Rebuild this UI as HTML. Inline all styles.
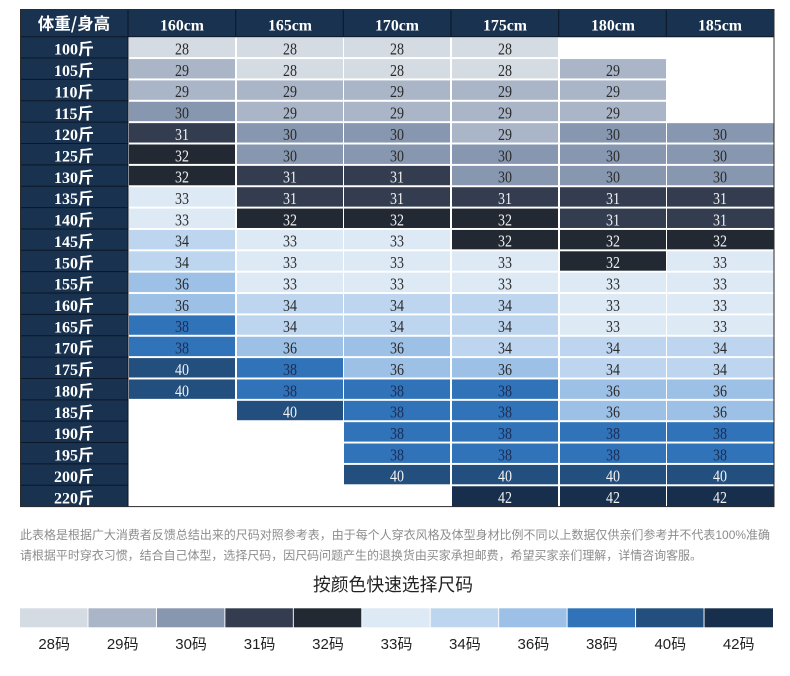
<!DOCTYPE html>
<html><head><meta charset="utf-8"><style>
html,body{margin:0;padding:0;background:#fff;}
svg{display:block;}
.k28{fill:#d5dbe3}.k29{fill:#aab6c8}.k30{fill:#8797b0}.k31{fill:#333d4f}.k32{fill:#222933}
.k33{fill:#dde9f5}.k34{fill:#bdd5ee}.k36{fill:#9dc0e6}.k38{fill:#3073b9}.k40{fill:#224f7e}.k42{fill:#172f4c}
.t{font-family:"Liberation Serif","Noto Serif CJK SC",serif;font-size:17px;text-anchor:middle;}
.d{fill:#2a2a2a}.n{fill:#1d2c52}.w{fill:#f2f2f2}
.h{font-family:"Liberation Serif","Noto Sans CJK SC",sans-serif;font-size:16px;font-weight:bold;fill:#fff;text-anchor:middle;}
.lg{font-family:"Liberation Sans","Noto Sans CJK SC",sans-serif;font-size:15px;fill:#222;text-anchor:middle;}
.nt{font-family:"Liberation Sans","Noto Sans CJK SC",sans-serif;font-size:12px;fill:#8c8c8c;}
</style></head><body>
<svg width="790" height="676" viewBox="0 0 790 676" xmlns="http://www.w3.org/2000/svg">
<rect x="0" y="0" width="790" height="676" fill="#fff"/>
<!-- header + first column -->
<rect x="20" y="9.5" width="754" height="27.2" fill="#18324f"/>
<rect x="20" y="36.7" width="108" height="470" fill="#18324f"/>
<g stroke="#0b1626" stroke-width="1">
<line x1="20" y1="36.7" x2="774" y2="36.7"/>
<line x1="128" y1="9.5" x2="128" y2="506.6"/>
<line x1="235.7" y1="9.5" x2="235.7" y2="36.7"/>
<line x1="343.3" y1="9.5" x2="343.3" y2="36.7"/>
<line x1="451" y1="9.5" x2="451" y2="36.7"/>
<line x1="558.7" y1="9.5" x2="558.7" y2="36.7"/>
<line x1="666.3" y1="9.5" x2="666.3" y2="36.7"/>
<line x1="20" y1="58.06" x2="128" y2="58.06"/><line x1="20" y1="79.42" x2="128" y2="79.42"/>
<line x1="20" y1="100.78" x2="128" y2="100.78"/><line x1="20" y1="122.14" x2="128" y2="122.14"/>
<line x1="20" y1="143.5" x2="128" y2="143.5"/><line x1="20" y1="164.86" x2="128" y2="164.86"/>
<line x1="20" y1="186.22" x2="128" y2="186.22"/><line x1="20" y1="207.58" x2="128" y2="207.58"/>
<line x1="20" y1="228.94" x2="128" y2="228.94"/><line x1="20" y1="250.3" x2="128" y2="250.3"/>
<line x1="20" y1="271.66" x2="128" y2="271.66"/><line x1="20" y1="293.02" x2="128" y2="293.02"/>
<line x1="20" y1="314.38" x2="128" y2="314.38"/><line x1="20" y1="335.74" x2="128" y2="335.74"/>
<line x1="20" y1="357.1" x2="128" y2="357.1"/><line x1="20" y1="378.46" x2="128" y2="378.46"/>
<line x1="20" y1="399.82" x2="128" y2="399.82"/><line x1="20" y1="421.18" x2="128" y2="421.18"/>
<line x1="20" y1="442.54" x2="128" y2="442.54"/><line x1="20" y1="463.9" x2="128" y2="463.9"/>
<line x1="20" y1="485.26" x2="128" y2="485.26"/>
</g>
<text x="74" y="29.5" class="h" style="font-family:'Noto Sans CJK SC',sans-serif;font-size:16.5px">体重/身高</text>
<text x="182" y="30.5" class="h" textLength="44" lengthAdjust="spacingAndGlyphs">160cm</text>
<text x="290" y="30.5" class="h" textLength="44" lengthAdjust="spacingAndGlyphs">165cm</text>
<text x="397" y="30.5" class="h" textLength="44" lengthAdjust="spacingAndGlyphs">170cm</text>
<text x="505" y="30.5" class="h" textLength="44" lengthAdjust="spacingAndGlyphs">175cm</text>
<text x="613" y="30.5" class="h" textLength="44" lengthAdjust="spacingAndGlyphs">180cm</text>
<text x="720" y="30.5" class="h" textLength="44" lengthAdjust="spacingAndGlyphs">185cm</text>

<!-- row 100 -->
<g transform="translate(0,36.7)">
<text x="74" y="18" class="h">100斤</text>
<rect x="129" y="1" width="106" height="19.4" class="k28"/><text x="182" y="17.8" class="t d" textLength="14" lengthAdjust="spacingAndGlyphs">28</text>
<rect x="237" y="1" width="106" height="19.4" class="k28"/><text x="290" y="17.8" class="t d" textLength="14" lengthAdjust="spacingAndGlyphs">28</text>
<rect x="344" y="1" width="106" height="19.4" class="k28"/><text x="397" y="17.8" class="t d" textLength="14" lengthAdjust="spacingAndGlyphs">28</text>
<rect x="452" y="1" width="106" height="19.4" class="k28"/><text x="505" y="17.8" class="t d" textLength="14" lengthAdjust="spacingAndGlyphs">28</text>
</g>
<!-- row 105 -->
<g transform="translate(0,58.06)">
<text x="74" y="18" class="h">105斤</text>
<rect x="129" y="1" width="106" height="19.4" class="k29"/><text x="182" y="17.8" class="t d" textLength="14" lengthAdjust="spacingAndGlyphs">29</text>
<rect x="237" y="1" width="106" height="19.4" class="k28"/><text x="290" y="17.8" class="t d" textLength="14" lengthAdjust="spacingAndGlyphs">28</text>
<rect x="344" y="1" width="106" height="19.4" class="k28"/><text x="397" y="17.8" class="t d" textLength="14" lengthAdjust="spacingAndGlyphs">28</text>
<rect x="452" y="1" width="106" height="19.4" class="k28"/><text x="505" y="17.8" class="t d" textLength="14" lengthAdjust="spacingAndGlyphs">28</text>
<rect x="560" y="1" width="106" height="19.4" class="k29"/><text x="613" y="17.8" class="t d" textLength="14" lengthAdjust="spacingAndGlyphs">29</text>
</g>
<!-- row 110 -->
<g transform="translate(0,79.42)">
<text x="74" y="18" class="h">110斤</text>
<rect x="129" y="1" width="106" height="19.4" class="k29"/><text x="182" y="17.8" class="t d" textLength="14" lengthAdjust="spacingAndGlyphs">29</text>
<rect x="237" y="1" width="106" height="19.4" class="k29"/><text x="290" y="17.8" class="t d" textLength="14" lengthAdjust="spacingAndGlyphs">29</text>
<rect x="344" y="1" width="106" height="19.4" class="k29"/><text x="397" y="17.8" class="t d" textLength="14" lengthAdjust="spacingAndGlyphs">29</text>
<rect x="452" y="1" width="106" height="19.4" class="k29"/><text x="505" y="17.8" class="t d" textLength="14" lengthAdjust="spacingAndGlyphs">29</text>
<rect x="560" y="1" width="106" height="19.4" class="k29"/><text x="613" y="17.8" class="t d" textLength="14" lengthAdjust="spacingAndGlyphs">29</text>
</g>
<!-- row 115 -->
<g transform="translate(0,100.78)">
<text x="74" y="18" class="h">115斤</text>
<rect x="129" y="1" width="106" height="19.4" class="k30"/><text x="182" y="17.8" class="t d" textLength="14" lengthAdjust="spacingAndGlyphs">30</text>
<rect x="237" y="1" width="106" height="19.4" class="k29"/><text x="290" y="17.8" class="t d" textLength="14" lengthAdjust="spacingAndGlyphs">29</text>
<rect x="344" y="1" width="106" height="19.4" class="k29"/><text x="397" y="17.8" class="t d" textLength="14" lengthAdjust="spacingAndGlyphs">29</text>
<rect x="452" y="1" width="106" height="19.4" class="k29"/><text x="505" y="17.8" class="t d" textLength="14" lengthAdjust="spacingAndGlyphs">29</text>
<rect x="560" y="1" width="106" height="19.4" class="k29"/><text x="613" y="17.8" class="t d" textLength="14" lengthAdjust="spacingAndGlyphs">29</text>
</g>
<!-- row 120 -->
<g transform="translate(0,122.14)">
<text x="74" y="18" class="h">120斤</text>
<rect x="129" y="1" width="106" height="19.4" class="k31"/><text x="182" y="17.8" class="t w" textLength="14" lengthAdjust="spacingAndGlyphs">31</text>
<rect x="237" y="1" width="106" height="19.4" class="k30"/><text x="290" y="17.8" class="t d" textLength="14" lengthAdjust="spacingAndGlyphs">30</text>
<rect x="344" y="1" width="106" height="19.4" class="k30"/><text x="397" y="17.8" class="t d" textLength="14" lengthAdjust="spacingAndGlyphs">30</text>
<rect x="452" y="1" width="106" height="19.4" class="k29"/><text x="505" y="17.8" class="t d" textLength="14" lengthAdjust="spacingAndGlyphs">29</text>
<rect x="560" y="1" width="106" height="19.4" class="k30"/><text x="613" y="17.8" class="t d" textLength="14" lengthAdjust="spacingAndGlyphs">30</text>
<rect x="667" y="1" width="107" height="19.4" class="k30"/><text x="720" y="17.8" class="t d" textLength="14" lengthAdjust="spacingAndGlyphs">30</text>
</g>
<!-- row 125 -->
<g transform="translate(0,143.5)">
<text x="74" y="18" class="h">125斤</text>
<rect x="129" y="1" width="106" height="19.4" class="k32"/><text x="182" y="17.8" class="t w" textLength="14" lengthAdjust="spacingAndGlyphs">32</text>
<rect x="237" y="1" width="106" height="19.4" class="k30"/><text x="290" y="17.8" class="t d" textLength="14" lengthAdjust="spacingAndGlyphs">30</text>
<rect x="344" y="1" width="106" height="19.4" class="k30"/><text x="397" y="17.8" class="t d" textLength="14" lengthAdjust="spacingAndGlyphs">30</text>
<rect x="452" y="1" width="106" height="19.4" class="k30"/><text x="505" y="17.8" class="t d" textLength="14" lengthAdjust="spacingAndGlyphs">30</text>
<rect x="560" y="1" width="106" height="19.4" class="k30"/><text x="613" y="17.8" class="t d" textLength="14" lengthAdjust="spacingAndGlyphs">30</text>
<rect x="667" y="1" width="107" height="19.4" class="k30"/><text x="720" y="17.8" class="t d" textLength="14" lengthAdjust="spacingAndGlyphs">30</text>
</g>
<!-- row 130 -->
<g transform="translate(0,164.86)">
<text x="74" y="18" class="h">130斤</text>
<rect x="129" y="1" width="106" height="19.4" class="k32"/><text x="182" y="17.8" class="t w" textLength="14" lengthAdjust="spacingAndGlyphs">32</text>
<rect x="237" y="1" width="106" height="19.4" class="k31"/><text x="290" y="17.8" class="t w" textLength="14" lengthAdjust="spacingAndGlyphs">31</text>
<rect x="344" y="1" width="106" height="19.4" class="k31"/><text x="397" y="17.8" class="t w" textLength="14" lengthAdjust="spacingAndGlyphs">31</text>
<rect x="452" y="1" width="106" height="19.4" class="k30"/><text x="505" y="17.8" class="t d" textLength="14" lengthAdjust="spacingAndGlyphs">30</text>
<rect x="560" y="1" width="106" height="19.4" class="k30"/><text x="613" y="17.8" class="t d" textLength="14" lengthAdjust="spacingAndGlyphs">30</text>
<rect x="667" y="1" width="107" height="19.4" class="k30"/><text x="720" y="17.8" class="t d" textLength="14" lengthAdjust="spacingAndGlyphs">30</text>
</g>
<!-- row 135 -->
<g transform="translate(0,186.22)">
<text x="74" y="18" class="h">135斤</text>
<rect x="129" y="1" width="106" height="19.4" class="k33"/><text x="182" y="17.8" class="t d" textLength="14" lengthAdjust="spacingAndGlyphs">33</text>
<rect x="237" y="1" width="106" height="19.4" class="k31"/><text x="290" y="17.8" class="t w" textLength="14" lengthAdjust="spacingAndGlyphs">31</text>
<rect x="344" y="1" width="106" height="19.4" class="k31"/><text x="397" y="17.8" class="t w" textLength="14" lengthAdjust="spacingAndGlyphs">31</text>
<rect x="452" y="1" width="106" height="19.4" class="k31"/><text x="505" y="17.8" class="t w" textLength="14" lengthAdjust="spacingAndGlyphs">31</text>
<rect x="560" y="1" width="106" height="19.4" class="k31"/><text x="613" y="17.8" class="t w" textLength="14" lengthAdjust="spacingAndGlyphs">31</text>
<rect x="667" y="1" width="107" height="19.4" class="k31"/><text x="720" y="17.8" class="t w" textLength="14" lengthAdjust="spacingAndGlyphs">31</text>
</g>
<!-- row 140 -->
<g transform="translate(0,207.58)">
<text x="74" y="18" class="h">140斤</text>
<rect x="129" y="1" width="106" height="19.4" class="k33"/><text x="182" y="17.8" class="t d" textLength="14" lengthAdjust="spacingAndGlyphs">33</text>
<rect x="237" y="1" width="106" height="19.4" class="k32"/><text x="290" y="17.8" class="t w" textLength="14" lengthAdjust="spacingAndGlyphs">32</text>
<rect x="344" y="1" width="106" height="19.4" class="k32"/><text x="397" y="17.8" class="t w" textLength="14" lengthAdjust="spacingAndGlyphs">32</text>
<rect x="452" y="1" width="106" height="19.4" class="k32"/><text x="505" y="17.8" class="t w" textLength="14" lengthAdjust="spacingAndGlyphs">32</text>
<rect x="560" y="1" width="106" height="19.4" class="k31"/><text x="613" y="17.8" class="t w" textLength="14" lengthAdjust="spacingAndGlyphs">31</text>
<rect x="667" y="1" width="107" height="19.4" class="k31"/><text x="720" y="17.8" class="t w" textLength="14" lengthAdjust="spacingAndGlyphs">31</text>
</g>
<!-- row 145 -->
<g transform="translate(0,228.94)">
<text x="74" y="18" class="h">145斤</text>
<rect x="129" y="1" width="106" height="19.4" class="k34"/><text x="182" y="17.8" class="t d" textLength="14" lengthAdjust="spacingAndGlyphs">34</text>
<rect x="237" y="1" width="106" height="19.4" class="k33"/><text x="290" y="17.8" class="t d" textLength="14" lengthAdjust="spacingAndGlyphs">33</text>
<rect x="344" y="1" width="106" height="19.4" class="k33"/><text x="397" y="17.8" class="t d" textLength="14" lengthAdjust="spacingAndGlyphs">33</text>
<rect x="452" y="1" width="106" height="19.4" class="k32"/><text x="505" y="17.8" class="t w" textLength="14" lengthAdjust="spacingAndGlyphs">32</text>
<rect x="560" y="1" width="106" height="19.4" class="k32"/><text x="613" y="17.8" class="t w" textLength="14" lengthAdjust="spacingAndGlyphs">32</text>
<rect x="667" y="1" width="107" height="19.4" class="k32"/><text x="720" y="17.8" class="t w" textLength="14" lengthAdjust="spacingAndGlyphs">32</text>
</g>
<!-- row 150 -->
<g transform="translate(0,250.3)">
<text x="74" y="18" class="h">150斤</text>
<rect x="129" y="1" width="106" height="19.4" class="k34"/><text x="182" y="17.8" class="t d" textLength="14" lengthAdjust="spacingAndGlyphs">34</text>
<rect x="237" y="1" width="106" height="19.4" class="k33"/><text x="290" y="17.8" class="t d" textLength="14" lengthAdjust="spacingAndGlyphs">33</text>
<rect x="344" y="1" width="106" height="19.4" class="k33"/><text x="397" y="17.8" class="t d" textLength="14" lengthAdjust="spacingAndGlyphs">33</text>
<rect x="452" y="1" width="106" height="19.4" class="k33"/><text x="505" y="17.8" class="t d" textLength="14" lengthAdjust="spacingAndGlyphs">33</text>
<rect x="560" y="1" width="106" height="19.4" class="k32"/><text x="613" y="17.8" class="t w" textLength="14" lengthAdjust="spacingAndGlyphs">32</text>
<rect x="667" y="1" width="107" height="19.4" class="k33"/><text x="720" y="17.8" class="t d" textLength="14" lengthAdjust="spacingAndGlyphs">33</text>
</g>
<!-- row 155 -->
<g transform="translate(0,271.66)">
<text x="74" y="18" class="h">155斤</text>
<rect x="129" y="1" width="106" height="19.4" class="k36"/><text x="182" y="17.8" class="t d" textLength="14" lengthAdjust="spacingAndGlyphs">36</text>
<rect x="237" y="1" width="106" height="19.4" class="k33"/><text x="290" y="17.8" class="t d" textLength="14" lengthAdjust="spacingAndGlyphs">33</text>
<rect x="344" y="1" width="106" height="19.4" class="k33"/><text x="397" y="17.8" class="t d" textLength="14" lengthAdjust="spacingAndGlyphs">33</text>
<rect x="452" y="1" width="106" height="19.4" class="k33"/><text x="505" y="17.8" class="t d" textLength="14" lengthAdjust="spacingAndGlyphs">33</text>
<rect x="560" y="1" width="106" height="19.4" class="k33"/><text x="613" y="17.8" class="t d" textLength="14" lengthAdjust="spacingAndGlyphs">33</text>
<rect x="667" y="1" width="107" height="19.4" class="k33"/><text x="720" y="17.8" class="t d" textLength="14" lengthAdjust="spacingAndGlyphs">33</text>
</g>
<!-- row 160 -->
<g transform="translate(0,293.02)">
<text x="74" y="18" class="h">160斤</text>
<rect x="129" y="1" width="106" height="19.4" class="k36"/><text x="182" y="17.8" class="t d" textLength="14" lengthAdjust="spacingAndGlyphs">36</text>
<rect x="237" y="1" width="106" height="19.4" class="k34"/><text x="290" y="17.8" class="t d" textLength="14" lengthAdjust="spacingAndGlyphs">34</text>
<rect x="344" y="1" width="106" height="19.4" class="k34"/><text x="397" y="17.8" class="t d" textLength="14" lengthAdjust="spacingAndGlyphs">34</text>
<rect x="452" y="1" width="106" height="19.4" class="k34"/><text x="505" y="17.8" class="t d" textLength="14" lengthAdjust="spacingAndGlyphs">34</text>
<rect x="560" y="1" width="106" height="19.4" class="k33"/><text x="613" y="17.8" class="t d" textLength="14" lengthAdjust="spacingAndGlyphs">33</text>
<rect x="667" y="1" width="107" height="19.4" class="k33"/><text x="720" y="17.8" class="t d" textLength="14" lengthAdjust="spacingAndGlyphs">33</text>
</g>
<!-- row 165 -->
<g transform="translate(0,314.38)">
<text x="74" y="18" class="h">165斤</text>
<rect x="129" y="1" width="106" height="19.4" class="k38"/><text x="182" y="17.8" class="t n" textLength="14" lengthAdjust="spacingAndGlyphs">38</text>
<rect x="237" y="1" width="106" height="19.4" class="k34"/><text x="290" y="17.8" class="t d" textLength="14" lengthAdjust="spacingAndGlyphs">34</text>
<rect x="344" y="1" width="106" height="19.4" class="k34"/><text x="397" y="17.8" class="t d" textLength="14" lengthAdjust="spacingAndGlyphs">34</text>
<rect x="452" y="1" width="106" height="19.4" class="k34"/><text x="505" y="17.8" class="t d" textLength="14" lengthAdjust="spacingAndGlyphs">34</text>
<rect x="560" y="1" width="106" height="19.4" class="k33"/><text x="613" y="17.8" class="t d" textLength="14" lengthAdjust="spacingAndGlyphs">33</text>
<rect x="667" y="1" width="107" height="19.4" class="k33"/><text x="720" y="17.8" class="t d" textLength="14" lengthAdjust="spacingAndGlyphs">33</text>
</g>
<!-- row 170 -->
<g transform="translate(0,335.74)">
<text x="74" y="18" class="h">170斤</text>
<rect x="129" y="1" width="106" height="19.4" class="k38"/><text x="182" y="17.8" class="t n" textLength="14" lengthAdjust="spacingAndGlyphs">38</text>
<rect x="237" y="1" width="106" height="19.4" class="k36"/><text x="290" y="17.8" class="t d" textLength="14" lengthAdjust="spacingAndGlyphs">36</text>
<rect x="344" y="1" width="106" height="19.4" class="k36"/><text x="397" y="17.8" class="t d" textLength="14" lengthAdjust="spacingAndGlyphs">36</text>
<rect x="452" y="1" width="106" height="19.4" class="k34"/><text x="505" y="17.8" class="t d" textLength="14" lengthAdjust="spacingAndGlyphs">34</text>
<rect x="560" y="1" width="106" height="19.4" class="k34"/><text x="613" y="17.8" class="t d" textLength="14" lengthAdjust="spacingAndGlyphs">34</text>
<rect x="667" y="1" width="107" height="19.4" class="k34"/><text x="720" y="17.8" class="t d" textLength="14" lengthAdjust="spacingAndGlyphs">34</text>
</g>
<!-- row 175 -->
<g transform="translate(0,357.1)">
<text x="74" y="18" class="h">175斤</text>
<rect x="129" y="1" width="106" height="19.4" class="k40"/><text x="182" y="17.8" class="t w" textLength="14" lengthAdjust="spacingAndGlyphs">40</text>
<rect x="237" y="1" width="106" height="19.4" class="k38"/><text x="290" y="17.8" class="t n" textLength="14" lengthAdjust="spacingAndGlyphs">38</text>
<rect x="344" y="1" width="106" height="19.4" class="k36"/><text x="397" y="17.8" class="t d" textLength="14" lengthAdjust="spacingAndGlyphs">36</text>
<rect x="452" y="1" width="106" height="19.4" class="k36"/><text x="505" y="17.8" class="t d" textLength="14" lengthAdjust="spacingAndGlyphs">36</text>
<rect x="560" y="1" width="106" height="19.4" class="k34"/><text x="613" y="17.8" class="t d" textLength="14" lengthAdjust="spacingAndGlyphs">34</text>
<rect x="667" y="1" width="107" height="19.4" class="k34"/><text x="720" y="17.8" class="t d" textLength="14" lengthAdjust="spacingAndGlyphs">34</text>
</g>
<!-- row 180 -->
<g transform="translate(0,378.46)">
<text x="74" y="18" class="h">180斤</text>
<rect x="129" y="1" width="106" height="19.4" class="k40"/><text x="182" y="17.8" class="t w" textLength="14" lengthAdjust="spacingAndGlyphs">40</text>
<rect x="237" y="1" width="106" height="19.4" class="k38"/><text x="290" y="17.8" class="t n" textLength="14" lengthAdjust="spacingAndGlyphs">38</text>
<rect x="344" y="1" width="106" height="19.4" class="k38"/><text x="397" y="17.8" class="t n" textLength="14" lengthAdjust="spacingAndGlyphs">38</text>
<rect x="452" y="1" width="106" height="19.4" class="k38"/><text x="505" y="17.8" class="t n" textLength="14" lengthAdjust="spacingAndGlyphs">38</text>
<rect x="560" y="1" width="106" height="19.4" class="k36"/><text x="613" y="17.8" class="t d" textLength="14" lengthAdjust="spacingAndGlyphs">36</text>
<rect x="667" y="1" width="107" height="19.4" class="k36"/><text x="720" y="17.8" class="t d" textLength="14" lengthAdjust="spacingAndGlyphs">36</text>
</g>
<!-- row 185 -->
<g transform="translate(0,399.82)">
<text x="74" y="18" class="h">185斤</text>
<rect x="237" y="1" width="106" height="19.4" class="k40"/><text x="290" y="17.8" class="t w" textLength="14" lengthAdjust="spacingAndGlyphs">40</text>
<rect x="344" y="1" width="106" height="19.4" class="k38"/><text x="397" y="17.8" class="t n" textLength="14" lengthAdjust="spacingAndGlyphs">38</text>
<rect x="452" y="1" width="106" height="19.4" class="k38"/><text x="505" y="17.8" class="t n" textLength="14" lengthAdjust="spacingAndGlyphs">38</text>
<rect x="560" y="1" width="106" height="19.4" class="k36"/><text x="613" y="17.8" class="t d" textLength="14" lengthAdjust="spacingAndGlyphs">36</text>
<rect x="667" y="1" width="107" height="19.4" class="k36"/><text x="720" y="17.8" class="t d" textLength="14" lengthAdjust="spacingAndGlyphs">36</text>
</g>
<!-- row 190 -->
<g transform="translate(0,421.18)">
<text x="74" y="18" class="h">190斤</text>
<rect x="344" y="1" width="106" height="19.4" class="k38"/><text x="397" y="17.8" class="t n" textLength="14" lengthAdjust="spacingAndGlyphs">38</text>
<rect x="452" y="1" width="106" height="19.4" class="k38"/><text x="505" y="17.8" class="t n" textLength="14" lengthAdjust="spacingAndGlyphs">38</text>
<rect x="560" y="1" width="106" height="19.4" class="k38"/><text x="613" y="17.8" class="t n" textLength="14" lengthAdjust="spacingAndGlyphs">38</text>
<rect x="667" y="1" width="107" height="19.4" class="k38"/><text x="720" y="17.8" class="t n" textLength="14" lengthAdjust="spacingAndGlyphs">38</text>
</g>
<!-- row 195 -->
<g transform="translate(0,442.54)">
<text x="74" y="18" class="h">195斤</text>
<rect x="344" y="1" width="106" height="19.4" class="k38"/><text x="397" y="17.8" class="t n" textLength="14" lengthAdjust="spacingAndGlyphs">38</text>
<rect x="452" y="1" width="106" height="19.4" class="k38"/><text x="505" y="17.8" class="t n" textLength="14" lengthAdjust="spacingAndGlyphs">38</text>
<rect x="560" y="1" width="106" height="19.4" class="k38"/><text x="613" y="17.8" class="t n" textLength="14" lengthAdjust="spacingAndGlyphs">38</text>
<rect x="667" y="1" width="107" height="19.4" class="k38"/><text x="720" y="17.8" class="t n" textLength="14" lengthAdjust="spacingAndGlyphs">38</text>
</g>
<!-- row 200 -->
<g transform="translate(0,463.9)">
<text x="74" y="18" class="h">200斤</text>
<rect x="344" y="1" width="106" height="19.4" class="k40"/><text x="397" y="17.8" class="t w" textLength="14" lengthAdjust="spacingAndGlyphs">40</text>
<rect x="452" y="1" width="106" height="19.4" class="k40"/><text x="505" y="17.8" class="t w" textLength="14" lengthAdjust="spacingAndGlyphs">40</text>
<rect x="560" y="1" width="106" height="19.4" class="k40"/><text x="613" y="17.8" class="t w" textLength="14" lengthAdjust="spacingAndGlyphs">40</text>
<rect x="667" y="1" width="107" height="19.4" class="k40"/><text x="720" y="17.8" class="t w" textLength="14" lengthAdjust="spacingAndGlyphs">40</text>
</g>
<!-- row 220 -->
<g transform="translate(0,485.26)">
<text x="74" y="18" class="h">220斤</text>
<rect x="452" y="1" width="106" height="20.4" class="k42"/><text x="505" y="17.8" class="t w" textLength="14" lengthAdjust="spacingAndGlyphs">42</text>
<rect x="560" y="1" width="106" height="20.4" class="k42"/><text x="613" y="17.8" class="t w" textLength="14" lengthAdjust="spacingAndGlyphs">42</text>
<rect x="667" y="1" width="107" height="20.4" class="k42"/><text x="720" y="17.8" class="t w" textLength="14" lengthAdjust="spacingAndGlyphs">42</text>
</g>

<!-- outer border -->
<rect x="20.5" y="9.5" width="753.5" height="497.1" fill="none" stroke="#2b2b2b" stroke-width="1"/>

<!-- notes -->
<text x="20" y="539" class="nt" textLength="750" lengthAdjust="spacingAndGlyphs">此表格是根据广大消费者反馈总结出来的尺码对照参考表，由于每个人穿衣风格及体型身材比例不同以上数据仅供亲们参考并不代表100%准确</text>
<text x="20" y="559.5" class="nt" textLength="682" lengthAdjust="spacingAndGlyphs">请根据平时穿衣习惯，结合自己体型，选择尺码，因尺码问题产生的退换货由买家承担邮费，希望买家亲们理解，详情咨询客服。</text>

<!-- title -->
<text x="393" y="591" style="font-family:'Liberation Sans','Noto Sans CJK SC',sans-serif;font-size:18px;fill:#222;text-anchor:middle;" textLength="160" lengthAdjust="spacingAndGlyphs">按颜色快速选择尺码</text>

<!-- legend -->
<rect x="20" y="608.3" width="67.5" height="19" class="k28"/>
<rect x="88.45" y="608.3" width="67.5" height="19" class="k29"/>
<rect x="156.9" y="608.3" width="67.5" height="19" class="k30"/>
<rect x="225.35" y="608.3" width="67.5" height="19" class="k31"/>
<rect x="293.8" y="608.3" width="67.5" height="19" class="k32"/>
<rect x="362.25" y="608.3" width="67.5" height="19" class="k33"/>
<rect x="430.7" y="608.3" width="67.5" height="19" class="k34"/>
<rect x="499.15" y="608.3" width="67.5" height="19" class="k36"/>
<rect x="567.6" y="608.3" width="67.5" height="19" class="k38"/>
<rect x="636.05" y="608.3" width="67.5" height="19" class="k40"/>
<rect x="704.5" y="608.3" width="68.5" height="19" class="k42"/>
<text x="54.2" y="649" class="lg">28码</text>
<text x="122.7" y="649" class="lg">29码</text>
<text x="191.1" y="649" class="lg">30码</text>
<text x="259.6" y="649" class="lg">31码</text>
<text x="328" y="649" class="lg">32码</text>
<text x="396.5" y="649" class="lg">33码</text>
<text x="464.9" y="649" class="lg">34码</text>
<text x="533.4" y="649" class="lg">36码</text>
<text x="601.8" y="649" class="lg">38码</text>
<text x="670.3" y="649" class="lg">40码</text>
<text x="738.7" y="649" class="lg">42码</text>
</svg>
</body></html>
